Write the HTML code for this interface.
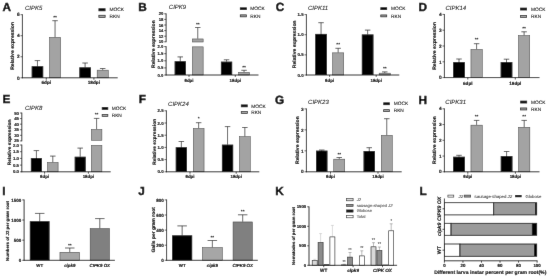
<!DOCTYPE html>
<html><head><meta charset="utf-8"><title>Figure</title>
<style>html,body{margin:0;padding:0;background:#fff;overflow:hidden}svg{display:block}</style>
</head><body>
<svg width="550" height="279" viewBox="0 0 550 279" font-family="Liberation Sans, Arial, sans-serif" shape-rendering="geometricPrecision" text-rendering="geometricPrecision">
<defs><filter id="soft" x="0" y="0" width="550" height="279" filterUnits="userSpaceOnUse"><feConvolveMatrix order="3" kernelMatrix="0.0028 0.0470 0.0028 0.0470 0.8008 0.0470 0.0028 0.0470 0.0028" edgeMode="duplicate" preserveAlpha="true"/></filter></defs>
<rect width="550" height="279" fill="#fff"/>
<g filter="url(#soft)">
<rect width="550" height="279" fill="#fff"/>
<g transform="translate(0,0.3)">
<text x="2.40" y="10.70" font-size="11.8" font-weight="bold" font-style="normal" text-anchor="start" fill="#000" stroke="#000" stroke-width="0.4">A</text>
<text x="25.00" y="9.95" font-size="6.0" font-weight="normal" font-style="italic" text-anchor="start" fill="#111" stroke="#111" stroke-width="0.08">CIPK5</text>
<rect x="98.50" y="8.00" width="7.00" height="2.90" fill="#000"/>
<rect x="98.85" y="14.95" width="6.30" height="2.30" fill="#a3a3a3" stroke="#1a1a1a" stroke-width="0.7"/>
<text x="109.60" y="11.12" font-size="4.8" font-weight="normal" font-style="normal" text-anchor="start" fill="#111" stroke="#111" stroke-width="0.08">MOCK</text>
<text x="109.60" y="17.72" font-size="4.8" font-weight="normal" font-style="normal" text-anchor="start" fill="#111" stroke="#111" stroke-width="0.08">RKN</text>
<text x="14.03" y="45.60" font-size="5.1" font-weight="bold" font-style="normal" text-anchor="middle" fill="#000" transform="rotate(-90 14.03 45.60)" stroke="#000" stroke-width="0.14">Relative expression</text>
<line x1="37.45" y1="60.30" x2="37.45" y2="65.90" stroke="#222" stroke-width="0.7"/>
<line x1="34.70" y1="60.30" x2="40.20" y2="60.30" stroke="#222" stroke-width="0.7"/>
<rect x="31.65" y="65.90" width="11.60" height="11.60" fill="#000"/>
<line x1="55.05" y1="20.40" x2="55.05" y2="36.80" stroke="#222" stroke-width="0.7"/>
<line x1="52.30" y1="20.40" x2="57.80" y2="20.40" stroke="#222" stroke-width="0.7"/>
<rect x="49.50" y="37.05" width="11.10" height="40.45" fill="#a3a3a3" stroke="#3a3a3a" stroke-width="0.5"/>
<text x="55.05" y="18.72" font-size="4.8" font-weight="bold" font-style="normal" text-anchor="middle" fill="#000">**</text>
<line x1="46.25" y1="77.50" x2="46.25" y2="79.40" stroke="#000" stroke-width="0.7"/>
<text x="46.25" y="84.18" font-size="4.7" font-weight="bold" font-style="normal" text-anchor="middle" fill="#000" stroke="#000" stroke-width="0.14">6dpi</text>
<line x1="85.10" y1="62.70" x2="85.10" y2="67.00" stroke="#222" stroke-width="0.7"/>
<line x1="82.35" y1="62.70" x2="87.85" y2="62.70" stroke="#222" stroke-width="0.7"/>
<rect x="79.30" y="67.00" width="11.60" height="10.50" fill="#000"/>
<line x1="102.70" y1="68.20" x2="102.70" y2="69.60" stroke="#222" stroke-width="0.7"/>
<line x1="99.95" y1="68.20" x2="105.45" y2="68.20" stroke="#222" stroke-width="0.7"/>
<rect x="97.15" y="69.85" width="11.10" height="7.65" fill="#a3a3a3" stroke="#3a3a3a" stroke-width="0.5"/>
<line x1="93.90" y1="77.50" x2="93.90" y2="79.40" stroke="#000" stroke-width="0.7"/>
<text x="93.90" y="84.18" font-size="4.7" font-weight="bold" font-style="normal" text-anchor="middle" fill="#000" stroke="#000" stroke-width="0.14">18dpi</text>
<line x1="22.00" y1="77.50" x2="117.70" y2="77.50" stroke="#000" stroke-width="0.8"/>
<line x1="22.40" y1="14.00" x2="22.40" y2="77.90" stroke="#000" stroke-width="0.8"/>
<line x1="20.50" y1="77.50" x2="22.40" y2="77.50" stroke="#000" stroke-width="0.6"/>
<text x="19.60" y="79.22" font-size="4.8" font-weight="bold" font-style="normal" text-anchor="end" fill="#000" stroke="#000" stroke-width="0.14">0</text>
<line x1="20.50" y1="56.47" x2="22.40" y2="56.47" stroke="#000" stroke-width="0.6"/>
<text x="19.60" y="58.19" font-size="4.8" font-weight="bold" font-style="normal" text-anchor="end" fill="#000" stroke="#000" stroke-width="0.14">2</text>
<line x1="20.50" y1="35.43" x2="22.40" y2="35.43" stroke="#000" stroke-width="0.6"/>
<text x="19.60" y="37.15" font-size="4.8" font-weight="bold" font-style="normal" text-anchor="end" fill="#000" stroke="#000" stroke-width="0.14">4</text>
<line x1="20.50" y1="14.40" x2="22.40" y2="14.40" stroke="#000" stroke-width="0.6"/>
<text x="19.60" y="16.12" font-size="4.8" font-weight="bold" font-style="normal" text-anchor="end" fill="#000" stroke="#000" stroke-width="0.14">6</text>
</g>
<g transform="translate(0,0)">
<text x="138.24" y="10.70" font-size="11.8" font-weight="bold" font-style="normal" text-anchor="start" fill="#000" stroke="#000" stroke-width="0.4">B</text>
<text x="168.80" y="9.45" font-size="6.0" font-weight="normal" font-style="italic" text-anchor="start" fill="#111" stroke="#111" stroke-width="0.08">CIPK9</text>
<rect x="239.90" y="7.40" width="6.90" height="2.50" fill="#000"/>
<rect x="240.25" y="14.85" width="6.20" height="2.00" fill="#a3a3a3" stroke="#1a1a1a" stroke-width="0.7"/>
<text x="250.30" y="10.32" font-size="4.8" font-weight="normal" font-style="normal" text-anchor="start" fill="#111" stroke="#111" stroke-width="0.08">MOCK</text>
<text x="250.30" y="17.52" font-size="4.8" font-weight="normal" font-style="normal" text-anchor="start" fill="#111" stroke="#111" stroke-width="0.08">RKN</text>
<text x="155.03" y="44.10" font-size="5.1" font-weight="bold" font-style="normal" text-anchor="middle" fill="#000" transform="rotate(-90 155.03 44.10)" stroke="#000" stroke-width="0.14">Relative expression</text>
<line x1="180.25" y1="56.90" x2="180.25" y2="61.20" stroke="#222" stroke-width="0.7"/>
<line x1="177.50" y1="56.90" x2="183.00" y2="56.90" stroke="#222" stroke-width="0.7"/>
<rect x="174.60" y="61.20" width="11.30" height="13.80" fill="#000"/>
<line x1="197.75" y1="27.50" x2="197.75" y2="38.70" stroke="#222" stroke-width="0.7"/>
<line x1="195.00" y1="27.50" x2="200.50" y2="27.50" stroke="#222" stroke-width="0.7"/>
<rect x="192.35" y="38.95" width="10.80" height="3.05" fill="#a3a3a3" stroke="#3a3a3a" stroke-width="0.5"/>
<rect x="192.35" y="46.85" width="10.80" height="28.15" fill="#a3a3a3" stroke="#3a3a3a" stroke-width="0.5"/>
<text x="197.75" y="25.52" font-size="4.8" font-weight="bold" font-style="normal" text-anchor="middle" fill="#000">**</text>
<line x1="189.00" y1="75.00" x2="189.00" y2="76.90" stroke="#000" stroke-width="0.7"/>
<text x="189.00" y="81.78" font-size="4.4" font-weight="bold" font-style="normal" text-anchor="middle" fill="#000" stroke="#000" stroke-width="0.14">6dpi</text>
<line x1="226.55" y1="59.80" x2="226.55" y2="61.60" stroke="#222" stroke-width="0.7"/>
<line x1="223.80" y1="59.80" x2="229.30" y2="59.80" stroke="#222" stroke-width="0.7"/>
<rect x="220.90" y="61.60" width="11.30" height="13.40" fill="#000"/>
<line x1="244.05" y1="70.30" x2="244.05" y2="72.10" stroke="#222" stroke-width="0.7"/>
<line x1="241.30" y1="70.30" x2="246.80" y2="70.30" stroke="#222" stroke-width="0.7"/>
<rect x="238.65" y="72.35" width="10.80" height="2.65" fill="#a3a3a3" stroke="#3a3a3a" stroke-width="0.5"/>
<text x="244.05" y="68.72" font-size="4.8" font-weight="bold" font-style="normal" text-anchor="middle" fill="#000">**</text>
<line x1="235.30" y1="75.00" x2="235.30" y2="76.90" stroke="#000" stroke-width="0.7"/>
<text x="235.30" y="81.78" font-size="4.4" font-weight="bold" font-style="normal" text-anchor="middle" fill="#000" stroke="#000" stroke-width="0.14">18dpi</text>
<line x1="165.70" y1="75.00" x2="258.50" y2="75.00" stroke="#000" stroke-width="0.8"/>
<line x1="166.10" y1="46.20" x2="166.10" y2="75.40" stroke="#000" stroke-width="0.8"/>
<line x1="164.20" y1="75.00" x2="166.10" y2="75.00" stroke="#000" stroke-width="0.6"/>
<text x="163.30" y="76.50" font-size="4.2" font-weight="bold" font-style="normal" text-anchor="end" fill="#000" stroke="#000" stroke-width="0.14">0.0</text>
<line x1="164.20" y1="67.90" x2="166.10" y2="67.90" stroke="#000" stroke-width="0.6"/>
<text x="163.30" y="69.40" font-size="4.2" font-weight="bold" font-style="normal" text-anchor="end" fill="#000" stroke="#000" stroke-width="0.14">0.5</text>
<line x1="164.20" y1="60.80" x2="166.10" y2="60.80" stroke="#000" stroke-width="0.6"/>
<text x="163.30" y="62.30" font-size="4.2" font-weight="bold" font-style="normal" text-anchor="end" fill="#000" stroke="#000" stroke-width="0.14">1.0</text>
<line x1="164.20" y1="53.70" x2="166.10" y2="53.70" stroke="#000" stroke-width="0.6"/>
<text x="163.30" y="55.20" font-size="4.2" font-weight="bold" font-style="normal" text-anchor="end" fill="#000" stroke="#000" stroke-width="0.14">1.5</text>
<line x1="164.20" y1="46.60" x2="166.10" y2="46.60" stroke="#000" stroke-width="0.6"/>
<text x="163.30" y="48.10" font-size="4.2" font-weight="bold" font-style="normal" text-anchor="end" fill="#000" stroke="#000" stroke-width="0.14">2.0</text>
<line x1="166.10" y1="13.40" x2="166.10" y2="42.20" stroke="#000" stroke-width="0.8"/>
<line x1="164.20" y1="41.80" x2="166.10" y2="41.80" stroke="#000" stroke-width="0.6"/>
<text x="163.30" y="43.30" font-size="4.2" font-weight="bold" font-style="normal" text-anchor="end" fill="#000" stroke="#000" stroke-width="0.14">10</text>
<line x1="164.20" y1="36.20" x2="166.10" y2="36.20" stroke="#000" stroke-width="0.6"/>
<text x="163.30" y="37.70" font-size="4.2" font-weight="bold" font-style="normal" text-anchor="end" fill="#000" stroke="#000" stroke-width="0.14">12</text>
<line x1="164.20" y1="30.60" x2="166.10" y2="30.60" stroke="#000" stroke-width="0.6"/>
<text x="163.30" y="32.10" font-size="4.2" font-weight="bold" font-style="normal" text-anchor="end" fill="#000" stroke="#000" stroke-width="0.14">14</text>
<line x1="164.20" y1="25.00" x2="166.10" y2="25.00" stroke="#000" stroke-width="0.6"/>
<text x="163.30" y="26.50" font-size="4.2" font-weight="bold" font-style="normal" text-anchor="end" fill="#000" stroke="#000" stroke-width="0.14">16</text>
<line x1="164.20" y1="19.40" x2="166.10" y2="19.40" stroke="#000" stroke-width="0.6"/>
<text x="163.30" y="20.90" font-size="4.2" font-weight="bold" font-style="normal" text-anchor="end" fill="#000" stroke="#000" stroke-width="0.14">18</text>
<line x1="164.20" y1="13.80" x2="166.10" y2="13.80" stroke="#000" stroke-width="0.6"/>
<text x="163.30" y="15.30" font-size="4.2" font-weight="bold" font-style="normal" text-anchor="end" fill="#000" stroke="#000" stroke-width="0.14">20</text>
</g>
<g transform="translate(0,0)">
<text x="275.66" y="10.80" font-size="11.8" font-weight="bold" font-style="normal" text-anchor="start" fill="#000" stroke="#000" stroke-width="0.4">C</text>
<text x="307.90" y="9.55" font-size="6.0" font-weight="normal" font-style="italic" text-anchor="start" fill="#111" stroke="#111" stroke-width="0.08">CIPK11</text>
<rect x="380.40" y="7.30" width="6.70" height="2.70" fill="#000"/>
<rect x="380.75" y="14.95" width="6.00" height="1.90" fill="#a3a3a3" stroke="#1a1a1a" stroke-width="0.7"/>
<text x="391.10" y="10.32" font-size="4.8" font-weight="normal" font-style="normal" text-anchor="start" fill="#111" stroke="#111" stroke-width="0.08">MOCK</text>
<text x="391.10" y="17.72" font-size="4.8" font-weight="normal" font-style="normal" text-anchor="start" fill="#111" stroke="#111" stroke-width="0.08">RKN</text>
<text x="295.63" y="44.30" font-size="5.1" font-weight="bold" font-style="normal" text-anchor="middle" fill="#000" transform="rotate(-90 295.63 44.30)" stroke="#000" stroke-width="0.14">Relative expression</text>
<line x1="321.05" y1="22.70" x2="321.05" y2="33.90" stroke="#222" stroke-width="0.7"/>
<line x1="318.30" y1="22.70" x2="323.80" y2="22.70" stroke="#222" stroke-width="0.7"/>
<rect x="315.20" y="33.90" width="11.70" height="41.10" fill="#000"/>
<line x1="338.15" y1="48.30" x2="338.15" y2="52.60" stroke="#222" stroke-width="0.7"/>
<line x1="335.40" y1="48.30" x2="340.90" y2="48.30" stroke="#222" stroke-width="0.7"/>
<rect x="332.55" y="52.85" width="11.20" height="22.15" fill="#a3a3a3" stroke="#3a3a3a" stroke-width="0.5"/>
<text x="338.15" y="46.32" font-size="4.8" font-weight="bold" font-style="normal" text-anchor="middle" fill="#000">**</text>
<line x1="329.60" y1="75.00" x2="329.60" y2="76.90" stroke="#000" stroke-width="0.7"/>
<text x="329.60" y="81.78" font-size="4.4" font-weight="bold" font-style="normal" text-anchor="middle" fill="#000" stroke="#000" stroke-width="0.14">6dpi</text>
<line x1="367.65" y1="30.10" x2="367.65" y2="34.40" stroke="#222" stroke-width="0.7"/>
<line x1="364.90" y1="30.10" x2="370.40" y2="30.10" stroke="#222" stroke-width="0.7"/>
<rect x="361.80" y="34.40" width="11.70" height="40.60" fill="#000"/>
<line x1="384.75" y1="71.90" x2="384.75" y2="72.90" stroke="#222" stroke-width="0.7"/>
<line x1="382.00" y1="71.90" x2="387.50" y2="71.90" stroke="#222" stroke-width="0.7"/>
<rect x="379.15" y="73.15" width="11.20" height="1.85" fill="#a3a3a3" stroke="#3a3a3a" stroke-width="0.5"/>
<text x="384.75" y="70.12" font-size="4.8" font-weight="bold" font-style="normal" text-anchor="middle" fill="#000">**</text>
<line x1="376.20" y1="75.00" x2="376.20" y2="76.90" stroke="#000" stroke-width="0.7"/>
<text x="376.20" y="81.78" font-size="4.4" font-weight="bold" font-style="normal" text-anchor="middle" fill="#000" stroke="#000" stroke-width="0.14">18dpi</text>
<line x1="306.00" y1="75.00" x2="399.30" y2="75.00" stroke="#000" stroke-width="0.8"/>
<line x1="306.40" y1="14.20" x2="306.40" y2="75.40" stroke="#000" stroke-width="0.8"/>
<line x1="304.50" y1="75.00" x2="306.40" y2="75.00" stroke="#000" stroke-width="0.6"/>
<text x="303.60" y="76.54" font-size="4.3" font-weight="bold" font-style="normal" text-anchor="end" fill="#000" stroke="#000" stroke-width="0.14">0.0</text>
<line x1="304.50" y1="54.87" x2="306.40" y2="54.87" stroke="#000" stroke-width="0.6"/>
<text x="303.60" y="56.41" font-size="4.3" font-weight="bold" font-style="normal" text-anchor="end" fill="#000" stroke="#000" stroke-width="0.14">0.5</text>
<line x1="304.50" y1="34.73" x2="306.40" y2="34.73" stroke="#000" stroke-width="0.6"/>
<text x="303.60" y="36.27" font-size="4.3" font-weight="bold" font-style="normal" text-anchor="end" fill="#000" stroke="#000" stroke-width="0.14">1.0</text>
<line x1="304.50" y1="14.60" x2="306.40" y2="14.60" stroke="#000" stroke-width="0.6"/>
<text x="303.60" y="16.14" font-size="4.3" font-weight="bold" font-style="normal" text-anchor="end" fill="#000" stroke="#000" stroke-width="0.14">1.5</text>
</g>
<g transform="translate(0,0)">
<text x="418.54" y="10.60" font-size="11.8" font-weight="bold" font-style="normal" text-anchor="start" fill="#000" stroke="#000" stroke-width="0.4">D</text>
<text x="445.50" y="9.85" font-size="6.0" font-weight="normal" font-style="italic" text-anchor="start" fill="#111" stroke="#111" stroke-width="0.08">CIPK14</text>
<rect x="520.10" y="7.70" width="6.90" height="2.70" fill="#000"/>
<rect x="520.45" y="15.35" width="6.20" height="2.00" fill="#a3a3a3" stroke="#1a1a1a" stroke-width="0.7"/>
<text x="531.00" y="10.62" font-size="4.8" font-weight="normal" font-style="normal" text-anchor="start" fill="#111" stroke="#111" stroke-width="0.08">MOCK</text>
<text x="531.00" y="18.22" font-size="4.8" font-weight="normal" font-style="normal" text-anchor="start" fill="#111" stroke="#111" stroke-width="0.08">RKN</text>
<text x="436.43" y="45.90" font-size="5.1" font-weight="bold" font-style="normal" text-anchor="middle" fill="#000" transform="rotate(-90 436.43 45.90)" stroke="#000" stroke-width="0.14">Relative expression</text>
<line x1="459.00" y1="59.00" x2="459.00" y2="62.10" stroke="#222" stroke-width="0.7"/>
<line x1="456.25" y1="59.00" x2="461.75" y2="59.00" stroke="#222" stroke-width="0.7"/>
<rect x="453.10" y="62.10" width="11.80" height="15.50" fill="#000"/>
<line x1="476.60" y1="43.70" x2="476.60" y2="49.20" stroke="#222" stroke-width="0.7"/>
<line x1="473.85" y1="43.70" x2="479.35" y2="43.70" stroke="#222" stroke-width="0.7"/>
<rect x="470.95" y="49.45" width="11.30" height="28.15" fill="#a3a3a3" stroke="#3a3a3a" stroke-width="0.5"/>
<text x="476.60" y="41.02" font-size="4.8" font-weight="bold" font-style="normal" text-anchor="middle" fill="#000">**</text>
<line x1="467.80" y1="77.60" x2="467.80" y2="79.50" stroke="#000" stroke-width="0.7"/>
<text x="467.80" y="84.65" font-size="4.6" font-weight="bold" font-style="normal" text-anchor="middle" fill="#000" stroke="#000" stroke-width="0.14">6dpi</text>
<line x1="506.50" y1="59.20" x2="506.50" y2="62.10" stroke="#222" stroke-width="0.7"/>
<line x1="503.75" y1="59.20" x2="509.25" y2="59.20" stroke="#222" stroke-width="0.7"/>
<rect x="500.60" y="62.10" width="11.80" height="15.50" fill="#000"/>
<line x1="524.10" y1="31.80" x2="524.10" y2="35.30" stroke="#222" stroke-width="0.7"/>
<line x1="521.35" y1="31.80" x2="526.85" y2="31.80" stroke="#222" stroke-width="0.7"/>
<rect x="518.45" y="35.55" width="11.30" height="42.05" fill="#a3a3a3" stroke="#3a3a3a" stroke-width="0.5"/>
<text x="524.10" y="29.82" font-size="4.8" font-weight="bold" font-style="normal" text-anchor="middle" fill="#000">**</text>
<line x1="515.30" y1="77.60" x2="515.30" y2="79.50" stroke="#000" stroke-width="0.7"/>
<text x="515.30" y="84.65" font-size="4.6" font-weight="bold" font-style="normal" text-anchor="middle" fill="#000" stroke="#000" stroke-width="0.14">18dpi</text>
<line x1="444.00" y1="77.60" x2="539.50" y2="77.60" stroke="#000" stroke-width="0.8"/>
<line x1="444.40" y1="14.00" x2="444.40" y2="78.00" stroke="#000" stroke-width="0.8"/>
<line x1="442.50" y1="77.60" x2="444.40" y2="77.60" stroke="#000" stroke-width="0.6"/>
<text x="441.60" y="79.32" font-size="4.8" font-weight="bold" font-style="normal" text-anchor="end" fill="#000" stroke="#000" stroke-width="0.14">0</text>
<line x1="442.50" y1="61.80" x2="444.40" y2="61.80" stroke="#000" stroke-width="0.6"/>
<text x="441.60" y="63.52" font-size="4.8" font-weight="bold" font-style="normal" text-anchor="end" fill="#000" stroke="#000" stroke-width="0.14">1</text>
<line x1="442.50" y1="46.00" x2="444.40" y2="46.00" stroke="#000" stroke-width="0.6"/>
<text x="441.60" y="47.72" font-size="4.8" font-weight="bold" font-style="normal" text-anchor="end" fill="#000" stroke="#000" stroke-width="0.14">2</text>
<line x1="442.50" y1="30.20" x2="444.40" y2="30.20" stroke="#000" stroke-width="0.6"/>
<text x="441.60" y="31.92" font-size="4.8" font-weight="bold" font-style="normal" text-anchor="end" fill="#000" stroke="#000" stroke-width="0.14">3</text>
<line x1="442.50" y1="14.40" x2="444.40" y2="14.40" stroke="#000" stroke-width="0.6"/>
<text x="441.60" y="16.12" font-size="4.8" font-weight="bold" font-style="normal" text-anchor="end" fill="#000" stroke="#000" stroke-width="0.14">4</text>
</g>
<g transform="translate(0,0)">
<text x="2.44" y="103.20" font-size="11.8" font-weight="bold" font-style="normal" text-anchor="start" fill="#000" stroke="#000" stroke-width="0.4">E</text>
<text x="25.00" y="109.85" font-size="6.0" font-weight="normal" font-style="italic" text-anchor="start" fill="#111" stroke="#111" stroke-width="0.08">CIPK8</text>
<rect x="101.80" y="107.10" width="6.40" height="2.70" fill="#000"/>
<rect x="102.15" y="114.35" width="5.70" height="2.00" fill="#a3a3a3" stroke="#1a1a1a" stroke-width="0.7"/>
<text x="111.70" y="110.12" font-size="4.8" font-weight="normal" font-style="normal" text-anchor="start" fill="#111" stroke="#111" stroke-width="0.08">MOCK</text>
<text x="111.70" y="117.22" font-size="4.8" font-weight="normal" font-style="normal" text-anchor="start" fill="#111" stroke="#111" stroke-width="0.08">RKN</text>
<text x="11.25" y="142.40" font-size="4.9" font-weight="bold" font-style="normal" text-anchor="middle" fill="#000" transform="rotate(-90 11.25 142.40)" stroke="#000" stroke-width="0.14">Relative expression</text>
<line x1="36.40" y1="150.60" x2="36.40" y2="158.00" stroke="#222" stroke-width="0.7"/>
<line x1="33.65" y1="150.60" x2="39.15" y2="150.60" stroke="#222" stroke-width="0.7"/>
<rect x="30.85" y="158.00" width="11.10" height="13.80" fill="#000"/>
<line x1="52.80" y1="156.10" x2="52.80" y2="162.20" stroke="#222" stroke-width="0.7"/>
<line x1="50.05" y1="156.10" x2="55.55" y2="156.10" stroke="#222" stroke-width="0.7"/>
<rect x="47.50" y="162.45" width="10.60" height="9.35" fill="#a3a3a3" stroke="#3a3a3a" stroke-width="0.5"/>
<line x1="44.60" y1="171.80" x2="44.60" y2="173.70" stroke="#000" stroke-width="0.7"/>
<text x="44.60" y="177.68" font-size="4.4" font-weight="bold" font-style="normal" text-anchor="middle" fill="#000" stroke="#000" stroke-width="0.14">6dpi</text>
<line x1="80.20" y1="148.10" x2="80.20" y2="156.70" stroke="#222" stroke-width="0.7"/>
<line x1="77.45" y1="148.10" x2="82.95" y2="148.10" stroke="#222" stroke-width="0.7"/>
<rect x="74.65" y="156.70" width="11.10" height="15.10" fill="#000"/>
<line x1="96.60" y1="118.40" x2="96.60" y2="129.20" stroke="#222" stroke-width="0.7"/>
<line x1="93.85" y1="118.40" x2="99.35" y2="118.40" stroke="#222" stroke-width="0.7"/>
<rect x="91.30" y="129.45" width="10.60" height="10.85" fill="#a3a3a3" stroke="#3a3a3a" stroke-width="0.5"/>
<rect x="91.30" y="145.35" width="10.60" height="26.45" fill="#a3a3a3" stroke="#3a3a3a" stroke-width="0.5"/>
<text x="96.60" y="116.02" font-size="4.8" font-weight="bold" font-style="normal" text-anchor="middle" fill="#000">**</text>
<line x1="88.40" y1="171.80" x2="88.40" y2="173.70" stroke="#000" stroke-width="0.7"/>
<text x="88.40" y="177.68" font-size="4.4" font-weight="bold" font-style="normal" text-anchor="middle" fill="#000" stroke="#000" stroke-width="0.14">18dpi</text>
<line x1="21.40" y1="171.80" x2="110.70" y2="171.80" stroke="#000" stroke-width="0.8"/>
<line x1="21.80" y1="144.60" x2="21.80" y2="172.20" stroke="#000" stroke-width="0.8"/>
<line x1="19.90" y1="171.80" x2="21.80" y2="171.80" stroke="#000" stroke-width="0.6"/>
<text x="19.00" y="173.34" font-size="4.3" font-weight="bold" font-style="normal" text-anchor="end" fill="#000" stroke="#000" stroke-width="0.14">0.0</text>
<line x1="19.90" y1="165.10" x2="21.80" y2="165.10" stroke="#000" stroke-width="0.6"/>
<text x="19.00" y="166.64" font-size="4.3" font-weight="bold" font-style="normal" text-anchor="end" fill="#000" stroke="#000" stroke-width="0.14">0.5</text>
<line x1="19.90" y1="158.40" x2="21.80" y2="158.40" stroke="#000" stroke-width="0.6"/>
<text x="19.00" y="159.94" font-size="4.3" font-weight="bold" font-style="normal" text-anchor="end" fill="#000" stroke="#000" stroke-width="0.14">1.0</text>
<line x1="19.90" y1="151.70" x2="21.80" y2="151.70" stroke="#000" stroke-width="0.6"/>
<text x="19.00" y="153.24" font-size="4.3" font-weight="bold" font-style="normal" text-anchor="end" fill="#000" stroke="#000" stroke-width="0.14">1.5</text>
<line x1="19.90" y1="145.00" x2="21.80" y2="145.00" stroke="#000" stroke-width="0.6"/>
<text x="19.00" y="146.54" font-size="4.3" font-weight="bold" font-style="normal" text-anchor="end" fill="#000" stroke="#000" stroke-width="0.14">2.0</text>
<line x1="21.80" y1="112.60" x2="21.80" y2="141.30" stroke="#000" stroke-width="0.8"/>
<line x1="19.90" y1="140.90" x2="21.80" y2="140.90" stroke="#000" stroke-width="0.6"/>
<text x="19.00" y="142.44" font-size="4.3" font-weight="bold" font-style="normal" text-anchor="end" fill="#000" stroke="#000" stroke-width="0.14">25</text>
<line x1="19.90" y1="135.32" x2="21.80" y2="135.32" stroke="#000" stroke-width="0.6"/>
<text x="19.00" y="136.86" font-size="4.3" font-weight="bold" font-style="normal" text-anchor="end" fill="#000" stroke="#000" stroke-width="0.14">30</text>
<line x1="19.90" y1="129.74" x2="21.80" y2="129.74" stroke="#000" stroke-width="0.6"/>
<text x="19.00" y="131.28" font-size="4.3" font-weight="bold" font-style="normal" text-anchor="end" fill="#000" stroke="#000" stroke-width="0.14">35</text>
<line x1="19.90" y1="124.16" x2="21.80" y2="124.16" stroke="#000" stroke-width="0.6"/>
<text x="19.00" y="125.70" font-size="4.3" font-weight="bold" font-style="normal" text-anchor="end" fill="#000" stroke="#000" stroke-width="0.14">40</text>
<line x1="19.90" y1="118.58" x2="21.80" y2="118.58" stroke="#000" stroke-width="0.6"/>
<text x="19.00" y="120.12" font-size="4.3" font-weight="bold" font-style="normal" text-anchor="end" fill="#000" stroke="#000" stroke-width="0.14">45</text>
<line x1="19.90" y1="113.00" x2="21.80" y2="113.00" stroke="#000" stroke-width="0.6"/>
<text x="19.00" y="114.54" font-size="4.3" font-weight="bold" font-style="normal" text-anchor="end" fill="#000" stroke="#000" stroke-width="0.14">50</text>
</g>
<g transform="translate(0,0)">
<text x="138.64" y="103.20" font-size="11.8" font-weight="bold" font-style="normal" text-anchor="start" fill="#000" stroke="#000" stroke-width="0.4">F</text>
<text x="168.10" y="106.35" font-size="6.0" font-weight="normal" font-style="italic" text-anchor="start" fill="#111" stroke="#111" stroke-width="0.08">CIPK24</text>
<rect x="240.90" y="104.50" width="6.80" height="2.70" fill="#000"/>
<rect x="241.25" y="111.55" width="6.10" height="1.90" fill="#a3a3a3" stroke="#1a1a1a" stroke-width="0.7"/>
<text x="251.20" y="107.52" font-size="4.8" font-weight="normal" font-style="normal" text-anchor="start" fill="#111" stroke="#111" stroke-width="0.08">MOCK</text>
<text x="251.20" y="114.22" font-size="4.8" font-weight="normal" font-style="normal" text-anchor="start" fill="#111" stroke="#111" stroke-width="0.08">RKN</text>
<text x="156.15" y="141.80" font-size="4.9" font-weight="bold" font-style="normal" text-anchor="middle" fill="#000" transform="rotate(-90 156.15 141.80)" stroke="#000" stroke-width="0.14">Relative expression</text>
<line x1="181.35" y1="141.50" x2="181.35" y2="147.20" stroke="#222" stroke-width="0.7"/>
<line x1="178.60" y1="141.50" x2="184.10" y2="141.50" stroke="#222" stroke-width="0.7"/>
<rect x="175.70" y="147.20" width="11.30" height="24.60" fill="#000"/>
<line x1="198.65" y1="122.70" x2="198.65" y2="128.20" stroke="#222" stroke-width="0.7"/>
<line x1="195.90" y1="122.70" x2="201.40" y2="122.70" stroke="#222" stroke-width="0.7"/>
<rect x="193.25" y="128.45" width="10.80" height="43.35" fill="#a3a3a3" stroke="#3a3a3a" stroke-width="0.5"/>
<text x="198.65" y="119.92" font-size="4.8" font-weight="bold" font-style="normal" text-anchor="middle" fill="#000">*</text>
<line x1="190.00" y1="171.80" x2="190.00" y2="173.70" stroke="#000" stroke-width="0.7"/>
<text x="190.00" y="177.88" font-size="4.4" font-weight="bold" font-style="normal" text-anchor="middle" fill="#000" stroke="#000" stroke-width="0.14">6dpi</text>
<line x1="227.55" y1="126.60" x2="227.55" y2="144.60" stroke="#222" stroke-width="0.7"/>
<line x1="224.80" y1="126.60" x2="230.30" y2="126.60" stroke="#222" stroke-width="0.7"/>
<rect x="221.90" y="144.60" width="11.30" height="27.20" fill="#000"/>
<line x1="244.85" y1="127.50" x2="244.85" y2="136.40" stroke="#222" stroke-width="0.7"/>
<line x1="242.10" y1="127.50" x2="247.60" y2="127.50" stroke="#222" stroke-width="0.7"/>
<rect x="239.45" y="136.65" width="10.80" height="35.15" fill="#a3a3a3" stroke="#3a3a3a" stroke-width="0.5"/>
<line x1="236.20" y1="171.80" x2="236.20" y2="173.70" stroke="#000" stroke-width="0.7"/>
<text x="236.20" y="177.88" font-size="4.4" font-weight="bold" font-style="normal" text-anchor="middle" fill="#000" stroke="#000" stroke-width="0.14">18dpi</text>
<line x1="166.00" y1="171.80" x2="259.30" y2="171.80" stroke="#000" stroke-width="0.8"/>
<line x1="166.40" y1="110.40" x2="166.40" y2="172.20" stroke="#000" stroke-width="0.8"/>
<line x1="164.50" y1="171.80" x2="166.40" y2="171.80" stroke="#000" stroke-width="0.6"/>
<text x="163.60" y="173.34" font-size="4.3" font-weight="bold" font-style="normal" text-anchor="end" fill="#000" stroke="#000" stroke-width="0.14">0.0</text>
<line x1="164.50" y1="159.60" x2="166.40" y2="159.60" stroke="#000" stroke-width="0.6"/>
<text x="163.60" y="161.14" font-size="4.3" font-weight="bold" font-style="normal" text-anchor="end" fill="#000" stroke="#000" stroke-width="0.14">0.5</text>
<line x1="164.50" y1="147.40" x2="166.40" y2="147.40" stroke="#000" stroke-width="0.6"/>
<text x="163.60" y="148.94" font-size="4.3" font-weight="bold" font-style="normal" text-anchor="end" fill="#000" stroke="#000" stroke-width="0.14">1.0</text>
<line x1="164.50" y1="135.20" x2="166.40" y2="135.20" stroke="#000" stroke-width="0.6"/>
<text x="163.60" y="136.74" font-size="4.3" font-weight="bold" font-style="normal" text-anchor="end" fill="#000" stroke="#000" stroke-width="0.14">1.5</text>
<line x1="164.50" y1="123.00" x2="166.40" y2="123.00" stroke="#000" stroke-width="0.6"/>
<text x="163.60" y="124.54" font-size="4.3" font-weight="bold" font-style="normal" text-anchor="end" fill="#000" stroke="#000" stroke-width="0.14">2.0</text>
<line x1="164.50" y1="110.80" x2="166.40" y2="110.80" stroke="#000" stroke-width="0.6"/>
<text x="163.60" y="112.34" font-size="4.3" font-weight="bold" font-style="normal" text-anchor="end" fill="#000" stroke="#000" stroke-width="0.14">2.5</text>
</g>
<g transform="translate(0,0)">
<text x="275.06" y="103.90" font-size="11.8" font-weight="bold" font-style="normal" text-anchor="start" fill="#000" stroke="#000" stroke-width="0.4">G</text>
<text x="308.10" y="104.15" font-size="6.0" font-weight="normal" font-style="italic" text-anchor="start" fill="#111" stroke="#111" stroke-width="0.08">CIPK23</text>
<rect x="383.30" y="102.40" width="6.50" height="2.70" fill="#000"/>
<rect x="383.65" y="109.65" width="5.80" height="2.00" fill="#a3a3a3" stroke="#1a1a1a" stroke-width="0.7"/>
<text x="393.70" y="105.22" font-size="4.8" font-weight="normal" font-style="normal" text-anchor="start" fill="#111" stroke="#111" stroke-width="0.08">MOCK</text>
<text x="393.70" y="112.32" font-size="4.8" font-weight="normal" font-style="normal" text-anchor="start" fill="#111" stroke="#111" stroke-width="0.08">RKN</text>
<text x="298.73" y="140.10" font-size="5.1" font-weight="bold" font-style="normal" text-anchor="middle" fill="#000" transform="rotate(-90 298.73 140.10)" stroke="#000" stroke-width="0.14">Relative expression</text>
<line x1="321.75" y1="150.00" x2="321.75" y2="150.60" stroke="#222" stroke-width="0.7"/>
<line x1="319.00" y1="150.00" x2="324.50" y2="150.00" stroke="#222" stroke-width="0.7"/>
<rect x="316.00" y="150.60" width="11.50" height="21.20" fill="#000"/>
<line x1="339.25" y1="157.50" x2="339.25" y2="158.90" stroke="#222" stroke-width="0.7"/>
<line x1="336.50" y1="157.50" x2="342.00" y2="157.50" stroke="#222" stroke-width="0.7"/>
<rect x="333.75" y="159.15" width="11.00" height="12.65" fill="#a3a3a3" stroke="#3a3a3a" stroke-width="0.5"/>
<text x="339.25" y="155.52" font-size="4.8" font-weight="bold" font-style="normal" text-anchor="middle" fill="#000">**</text>
<line x1="330.50" y1="171.80" x2="330.50" y2="173.70" stroke="#000" stroke-width="0.7"/>
<text x="330.50" y="178.08" font-size="4.4" font-weight="bold" font-style="normal" text-anchor="middle" fill="#000" stroke="#000" stroke-width="0.14">6dpi</text>
<line x1="369.25" y1="147.70" x2="369.25" y2="151.00" stroke="#222" stroke-width="0.7"/>
<line x1="366.50" y1="147.70" x2="372.00" y2="147.70" stroke="#222" stroke-width="0.7"/>
<rect x="363.50" y="151.00" width="11.50" height="20.80" fill="#000"/>
<line x1="386.75" y1="118.70" x2="386.75" y2="135.10" stroke="#222" stroke-width="0.7"/>
<line x1="384.00" y1="118.70" x2="389.50" y2="118.70" stroke="#222" stroke-width="0.7"/>
<rect x="381.25" y="135.35" width="11.00" height="36.45" fill="#a3a3a3" stroke="#3a3a3a" stroke-width="0.5"/>
<line x1="378.00" y1="171.80" x2="378.00" y2="173.70" stroke="#000" stroke-width="0.7"/>
<text x="378.00" y="178.08" font-size="4.4" font-weight="bold" font-style="normal" text-anchor="middle" fill="#000" stroke="#000" stroke-width="0.14">18dpi</text>
<line x1="306.00" y1="171.80" x2="401.70" y2="171.80" stroke="#000" stroke-width="0.8"/>
<line x1="306.40" y1="108.50" x2="306.40" y2="172.20" stroke="#000" stroke-width="0.8"/>
<line x1="304.50" y1="171.80" x2="306.40" y2="171.80" stroke="#000" stroke-width="0.6"/>
<text x="303.60" y="173.48" font-size="4.7" font-weight="bold" font-style="normal" text-anchor="end" fill="#000" stroke="#000" stroke-width="0.14">0</text>
<line x1="304.50" y1="150.83" x2="306.40" y2="150.83" stroke="#000" stroke-width="0.6"/>
<text x="303.60" y="152.52" font-size="4.7" font-weight="bold" font-style="normal" text-anchor="end" fill="#000" stroke="#000" stroke-width="0.14">1</text>
<line x1="304.50" y1="129.87" x2="306.40" y2="129.87" stroke="#000" stroke-width="0.6"/>
<text x="303.60" y="131.55" font-size="4.7" font-weight="bold" font-style="normal" text-anchor="end" fill="#000" stroke="#000" stroke-width="0.14">2</text>
<line x1="304.50" y1="108.90" x2="306.40" y2="108.90" stroke="#000" stroke-width="0.6"/>
<text x="303.60" y="110.58" font-size="4.7" font-weight="bold" font-style="normal" text-anchor="end" fill="#000" stroke="#000" stroke-width="0.14">3</text>
</g>
<g transform="translate(0,0)">
<text x="418.54" y="103.80" font-size="11.8" font-weight="bold" font-style="normal" text-anchor="start" fill="#000" stroke="#000" stroke-width="0.4">H</text>
<text x="445.30" y="104.15" font-size="6.0" font-weight="normal" font-style="italic" text-anchor="start" fill="#111" stroke="#111" stroke-width="0.08">CIPK31</text>
<rect x="520.20" y="100.70" width="6.90" height="2.70" fill="#000"/>
<rect x="520.55" y="107.95" width="6.20" height="2.00" fill="#a3a3a3" stroke="#1a1a1a" stroke-width="0.7"/>
<text x="531.00" y="103.72" font-size="4.8" font-weight="normal" font-style="normal" text-anchor="start" fill="#111" stroke="#111" stroke-width="0.08">MOCK</text>
<text x="531.00" y="110.62" font-size="4.8" font-weight="normal" font-style="normal" text-anchor="start" fill="#111" stroke="#111" stroke-width="0.08">RKN</text>
<text x="436.43" y="140.00" font-size="5.1" font-weight="bold" font-style="normal" text-anchor="middle" fill="#000" transform="rotate(-90 436.43 140.00)" stroke="#000" stroke-width="0.14">Relative expression</text>
<line x1="459.00" y1="155.30" x2="459.00" y2="156.70" stroke="#222" stroke-width="0.7"/>
<line x1="456.25" y1="155.30" x2="461.75" y2="155.30" stroke="#222" stroke-width="0.7"/>
<rect x="453.10" y="156.70" width="11.80" height="15.10" fill="#000"/>
<line x1="476.60" y1="120.40" x2="476.60" y2="124.90" stroke="#222" stroke-width="0.7"/>
<line x1="473.85" y1="120.40" x2="479.35" y2="120.40" stroke="#222" stroke-width="0.7"/>
<rect x="470.95" y="125.15" width="11.30" height="46.65" fill="#a3a3a3" stroke="#3a3a3a" stroke-width="0.5"/>
<text x="476.60" y="118.12" font-size="4.8" font-weight="bold" font-style="normal" text-anchor="middle" fill="#000">**</text>
<line x1="467.80" y1="171.80" x2="467.80" y2="173.70" stroke="#000" stroke-width="0.7"/>
<text x="467.80" y="178.08" font-size="4.4" font-weight="bold" font-style="normal" text-anchor="middle" fill="#000" stroke="#000" stroke-width="0.14">6dpi</text>
<line x1="506.60" y1="151.50" x2="506.60" y2="156.10" stroke="#222" stroke-width="0.7"/>
<line x1="503.85" y1="151.50" x2="509.35" y2="151.50" stroke="#222" stroke-width="0.7"/>
<rect x="500.70" y="156.10" width="11.80" height="15.70" fill="#000"/>
<line x1="524.20" y1="120.40" x2="524.20" y2="127.00" stroke="#222" stroke-width="0.7"/>
<line x1="521.45" y1="120.40" x2="526.95" y2="120.40" stroke="#222" stroke-width="0.7"/>
<rect x="518.55" y="127.25" width="11.30" height="44.55" fill="#a3a3a3" stroke="#3a3a3a" stroke-width="0.5"/>
<text x="524.20" y="118.42" font-size="4.8" font-weight="bold" font-style="normal" text-anchor="middle" fill="#000">**</text>
<line x1="515.40" y1="171.80" x2="515.40" y2="173.70" stroke="#000" stroke-width="0.7"/>
<text x="515.40" y="178.08" font-size="4.4" font-weight="bold" font-style="normal" text-anchor="middle" fill="#000" stroke="#000" stroke-width="0.14">18dpi</text>
<line x1="444.00" y1="171.80" x2="539.50" y2="171.80" stroke="#000" stroke-width="0.8"/>
<line x1="444.40" y1="108.40" x2="444.40" y2="172.20" stroke="#000" stroke-width="0.8"/>
<line x1="442.50" y1="171.80" x2="444.40" y2="171.80" stroke="#000" stroke-width="0.6"/>
<text x="441.60" y="173.48" font-size="4.7" font-weight="bold" font-style="normal" text-anchor="end" fill="#000" stroke="#000" stroke-width="0.14">0</text>
<line x1="442.50" y1="156.05" x2="444.40" y2="156.05" stroke="#000" stroke-width="0.6"/>
<text x="441.60" y="157.73" font-size="4.7" font-weight="bold" font-style="normal" text-anchor="end" fill="#000" stroke="#000" stroke-width="0.14">1</text>
<line x1="442.50" y1="140.30" x2="444.40" y2="140.30" stroke="#000" stroke-width="0.6"/>
<text x="441.60" y="141.98" font-size="4.7" font-weight="bold" font-style="normal" text-anchor="end" fill="#000" stroke="#000" stroke-width="0.14">2</text>
<line x1="442.50" y1="124.55" x2="444.40" y2="124.55" stroke="#000" stroke-width="0.6"/>
<text x="441.60" y="126.23" font-size="4.7" font-weight="bold" font-style="normal" text-anchor="end" fill="#000" stroke="#000" stroke-width="0.14">3</text>
<line x1="442.50" y1="108.80" x2="444.40" y2="108.80" stroke="#000" stroke-width="0.6"/>
<text x="441.60" y="110.48" font-size="4.7" font-weight="bold" font-style="normal" text-anchor="end" fill="#000" stroke="#000" stroke-width="0.14">4</text>
</g>
<text x="2.24" y="195.00" font-size="11.8" font-weight="bold" font-style="normal" text-anchor="start" fill="#000" stroke="#000" stroke-width="0.4">I</text>
<text x="8.96" y="231.00" font-size="4.37" font-weight="bold" font-style="normal" text-anchor="middle" fill="#000" transform="rotate(-90 8.96 231.00)" stroke="#000" stroke-width="0.14">Numbers of J2 per gram root</text>
<line x1="39.70" y1="213.40" x2="39.70" y2="221.20" stroke="#222" stroke-width="0.7"/>
<line x1="34.95" y1="213.40" x2="44.45" y2="213.40" stroke="#222" stroke-width="0.7"/>
<rect x="29.80" y="221.20" width="19.80" height="39.10" fill="#000"/>
<text x="39.70" y="267.18" font-size="4.4" font-weight="bold" font-style="normal" text-anchor="middle" fill="#000" stroke="#000" stroke-width="0.14">WT</text>
<line x1="69.75" y1="248.00" x2="69.75" y2="252.00" stroke="#222" stroke-width="0.7"/>
<line x1="65.00" y1="248.00" x2="74.50" y2="248.00" stroke="#222" stroke-width="0.7"/>
<rect x="59.95" y="252.25" width="19.60" height="8.05" fill="#a6a6a6" stroke="#333" stroke-width="0.5"/>
<text x="69.75" y="246.92" font-size="4.8" font-weight="bold" font-style="normal" text-anchor="middle" fill="#000">**</text>
<text x="69.75" y="267.18" font-size="4.4" font-weight="bold" font-style="italic" text-anchor="middle" fill="#000" stroke="#000" stroke-width="0.14">cipk9</text>
<line x1="99.80" y1="218.60" x2="99.80" y2="228.30" stroke="#222" stroke-width="0.7"/>
<line x1="95.05" y1="218.60" x2="104.55" y2="218.60" stroke="#222" stroke-width="0.7"/>
<rect x="90.15" y="228.55" width="19.30" height="31.75" fill="#808080" stroke="#333" stroke-width="0.5"/>
<text x="99.80" y="267.18" font-size="4.4" font-weight="bold" font-style="italic" text-anchor="middle" fill="#000" stroke="#000" stroke-width="0.14">CIPK9 OX</text>
<line x1="23.70" y1="260.30" x2="114.90" y2="260.30" stroke="#000" stroke-width="0.8"/>
<line x1="24.10" y1="199.50" x2="24.10" y2="260.70" stroke="#000" stroke-width="0.8"/>
<line x1="22.20" y1="260.30" x2="24.10" y2="260.30" stroke="#000" stroke-width="0.6"/>
<text x="21.30" y="261.91" font-size="4.5" font-weight="bold" font-style="normal" text-anchor="end" fill="#000" stroke="#000" stroke-width="0.14">0</text>
<line x1="22.20" y1="240.17" x2="24.10" y2="240.17" stroke="#000" stroke-width="0.6"/>
<text x="21.30" y="241.78" font-size="4.5" font-weight="bold" font-style="normal" text-anchor="end" fill="#000" stroke="#000" stroke-width="0.14">500</text>
<line x1="22.20" y1="220.03" x2="24.10" y2="220.03" stroke="#000" stroke-width="0.6"/>
<text x="21.30" y="221.64" font-size="4.5" font-weight="bold" font-style="normal" text-anchor="end" fill="#000" stroke="#000" stroke-width="0.14">1000</text>
<line x1="22.20" y1="199.90" x2="24.10" y2="199.90" stroke="#000" stroke-width="0.6"/>
<text x="21.30" y="201.51" font-size="4.5" font-weight="bold" font-style="normal" text-anchor="end" fill="#000" stroke="#000" stroke-width="0.14">1500</text>
<text x="138.33" y="195.20" font-size="11.8" font-weight="bold" font-style="normal" text-anchor="start" fill="#000" stroke="#000" stroke-width="0.4">J</text>
<text x="154.96" y="229.80" font-size="4.93" font-weight="bold" font-style="normal" text-anchor="middle" fill="#000" transform="rotate(-90 154.96 229.80)" stroke="#000" stroke-width="0.14">Galls per gram root</text>
<line x1="182.15" y1="225.90" x2="182.15" y2="235.30" stroke="#222" stroke-width="0.7"/>
<line x1="177.40" y1="225.90" x2="186.90" y2="225.90" stroke="#222" stroke-width="0.7"/>
<rect x="172.10" y="235.30" width="20.10" height="25.00" fill="#000"/>
<text x="182.15" y="267.18" font-size="4.4" font-weight="bold" font-style="normal" text-anchor="middle" fill="#000" stroke="#000" stroke-width="0.14">WT</text>
<line x1="212.35" y1="240.50" x2="212.35" y2="247.40" stroke="#222" stroke-width="0.7"/>
<line x1="207.60" y1="240.50" x2="217.10" y2="240.50" stroke="#222" stroke-width="0.7"/>
<rect x="202.45" y="247.65" width="19.80" height="12.65" fill="#a6a6a6" stroke="#333" stroke-width="0.5"/>
<text x="212.35" y="238.82" font-size="4.8" font-weight="bold" font-style="normal" text-anchor="middle" fill="#000">**</text>
<text x="212.35" y="267.18" font-size="4.4" font-weight="bold" font-style="italic" text-anchor="middle" fill="#000" stroke="#000" stroke-width="0.14">cipk9</text>
<line x1="242.70" y1="214.80" x2="242.70" y2="221.70" stroke="#222" stroke-width="0.7"/>
<line x1="237.95" y1="214.80" x2="247.45" y2="214.80" stroke="#222" stroke-width="0.7"/>
<rect x="233.05" y="221.95" width="19.30" height="38.35" fill="#808080" stroke="#333" stroke-width="0.5"/>
<text x="242.70" y="212.62" font-size="4.8" font-weight="bold" font-style="normal" text-anchor="middle" fill="#000">**</text>
<text x="242.70" y="267.18" font-size="4.4" font-weight="bold" font-style="italic" text-anchor="middle" fill="#000" stroke="#000" stroke-width="0.14">CIPK9 OX</text>
<line x1="166.20" y1="260.30" x2="257.80" y2="260.30" stroke="#000" stroke-width="0.8"/>
<line x1="166.60" y1="199.50" x2="166.60" y2="260.70" stroke="#000" stroke-width="0.8"/>
<line x1="164.70" y1="260.30" x2="166.60" y2="260.30" stroke="#000" stroke-width="0.6"/>
<text x="163.80" y="261.91" font-size="4.5" font-weight="bold" font-style="normal" text-anchor="end" fill="#000" stroke="#000" stroke-width="0.14">0</text>
<line x1="164.70" y1="245.20" x2="166.60" y2="245.20" stroke="#000" stroke-width="0.6"/>
<text x="163.80" y="246.81" font-size="4.5" font-weight="bold" font-style="normal" text-anchor="end" fill="#000" stroke="#000" stroke-width="0.14">200</text>
<line x1="164.70" y1="230.10" x2="166.60" y2="230.10" stroke="#000" stroke-width="0.6"/>
<text x="163.80" y="231.71" font-size="4.5" font-weight="bold" font-style="normal" text-anchor="end" fill="#000" stroke="#000" stroke-width="0.14">400</text>
<line x1="164.70" y1="215.00" x2="166.60" y2="215.00" stroke="#000" stroke-width="0.6"/>
<text x="163.80" y="216.61" font-size="4.5" font-weight="bold" font-style="normal" text-anchor="end" fill="#000" stroke="#000" stroke-width="0.14">600</text>
<line x1="164.70" y1="199.90" x2="166.60" y2="199.90" stroke="#000" stroke-width="0.6"/>
<text x="163.80" y="201.51" font-size="4.5" font-weight="bold" font-style="normal" text-anchor="end" fill="#000" stroke="#000" stroke-width="0.14">800</text>
<text x="275.34" y="195.00" font-size="11.8" font-weight="bold" font-style="normal" text-anchor="start" fill="#000" stroke="#000" stroke-width="0.4">K</text>
<text x="294.55" y="236.00" font-size="4.32" font-weight="bold" font-style="normal" text-anchor="middle" fill="#000" transform="rotate(-90 294.55 236.00)" stroke="#000" stroke-width="0.14">Nematodes of per gram root</text>
<rect x="346.50" y="198.60" width="6.60" height="2.20" fill="#d9d9d9" stroke="#222" stroke-width="0.6"/>
<text x="356.70" y="201.17" font-size="4.1" font-weight="normal" font-style="normal" text-anchor="start" fill="#555" stroke="#555" stroke-width="0.1"><tspan font-style="italic">J2</tspan></text>
<rect x="346.50" y="204.30" width="6.60" height="2.20" fill="#8c8c8c" stroke="#222" stroke-width="0.6"/>
<text x="356.70" y="206.87" font-size="4.1" font-weight="normal" font-style="normal" text-anchor="start" fill="#555" stroke="#555" stroke-width="0.1">sausage-shaped <tspan font-style="italic">J2</tspan></text>
<rect x="346.50" y="209.90" width="6.60" height="2.20" fill="#000" stroke="#222" stroke-width="0.6"/>
<text x="356.70" y="212.47" font-size="4.1" font-weight="normal" font-style="normal" text-anchor="start" fill="#555" stroke="#555" stroke-width="0.1">Globose</text>
<rect x="346.50" y="215.60" width="6.60" height="2.20" fill="#fff" stroke="#222" stroke-width="0.6"/>
<text x="356.70" y="218.17" font-size="4.1" font-weight="normal" font-style="normal" text-anchor="start" fill="#555" stroke="#555" stroke-width="0.1">Total</text>
<line x1="314.70" y1="259.30" x2="314.70" y2="260.30" stroke="#b8b8b8" stroke-width="0.5"/>
<line x1="313.20" y1="259.30" x2="316.20" y2="259.30" stroke="#b8b8b8" stroke-width="0.5"/>
<rect x="312.20" y="260.60" width="5.00" height="4.70" fill="#d9d9d9" stroke="#1a1a1a" stroke-width="0.6"/>
<line x1="320.60" y1="233.60" x2="320.60" y2="242.20" stroke="#b8b8b8" stroke-width="0.5"/>
<line x1="319.10" y1="233.60" x2="322.10" y2="233.60" stroke="#b8b8b8" stroke-width="0.5"/>
<rect x="318.10" y="242.50" width="5.00" height="22.80" fill="#8c8c8c" stroke="#1a1a1a" stroke-width="0.6"/>
<rect x="324.00" y="264.70" width="5.00" height="0.60" fill="#000" stroke="#1a1a1a" stroke-width="0.6"/>
<line x1="332.40" y1="225.40" x2="332.40" y2="236.60" stroke="#b8b8b8" stroke-width="0.5"/>
<line x1="330.90" y1="225.40" x2="333.90" y2="225.40" stroke="#b8b8b8" stroke-width="0.5"/>
<rect x="329.90" y="236.90" width="5.00" height="28.40" fill="#fff" stroke="#1a1a1a" stroke-width="0.6"/>
<line x1="323.70" y1="265.30" x2="323.70" y2="267.20" stroke="#000" stroke-width="0.7"/>
<text x="323.70" y="272.25" font-size="4.6" font-weight="bold" font-style="normal" text-anchor="middle" fill="#000" stroke="#000" stroke-width="0.14">WT</text>
<line x1="344.10" y1="264.20" x2="344.10" y2="264.60" stroke="#777" stroke-width="0.5"/>
<line x1="342.60" y1="264.20" x2="345.60" y2="264.20" stroke="#777" stroke-width="0.5"/>
<rect x="341.60" y="264.90" width="5.00" height="0.40" fill="#d9d9d9" stroke="#1a1a1a" stroke-width="0.6"/>
<text x="344.10" y="262.70" font-size="4.2" font-weight="bold" font-style="normal" text-anchor="middle" fill="#222">**</text>
<line x1="350.00" y1="252.50" x2="350.00" y2="256.80" stroke="#777" stroke-width="0.5"/>
<line x1="348.50" y1="252.50" x2="351.50" y2="252.50" stroke="#777" stroke-width="0.5"/>
<rect x="347.50" y="257.10" width="5.00" height="8.20" fill="#8c8c8c" stroke="#1a1a1a" stroke-width="0.6"/>
<text x="350.00" y="251.20" font-size="4.2" font-weight="bold" font-style="normal" text-anchor="middle" fill="#222">**</text>
<rect x="353.40" y="265.30" width="5.00" height="0.00" fill="#000" stroke="#1a1a1a" stroke-width="0.6"/>
<line x1="361.80" y1="250.80" x2="361.80" y2="255.60" stroke="#777" stroke-width="0.5"/>
<line x1="360.30" y1="250.80" x2="363.30" y2="250.80" stroke="#777" stroke-width="0.5"/>
<rect x="359.30" y="255.90" width="5.00" height="9.40" fill="#fff" stroke="#1a1a1a" stroke-width="0.6"/>
<text x="361.80" y="249.10" font-size="4.2" font-weight="bold" font-style="normal" text-anchor="middle" fill="#222">**</text>
<line x1="353.10" y1="265.30" x2="353.10" y2="267.20" stroke="#000" stroke-width="0.7"/>
<text x="353.10" y="272.25" font-size="4.6" font-weight="bold" font-style="italic" text-anchor="middle" fill="#000" stroke="#000" stroke-width="0.14">cipk9</text>
<line x1="373.50" y1="242.70" x2="373.50" y2="246.50" stroke="#777" stroke-width="0.5"/>
<line x1="372.00" y1="242.70" x2="375.00" y2="242.70" stroke="#777" stroke-width="0.5"/>
<rect x="371.00" y="246.80" width="5.00" height="18.50" fill="#d9d9d9" stroke="#1a1a1a" stroke-width="0.6"/>
<text x="373.50" y="241.40" font-size="4.2" font-weight="bold" font-style="normal" text-anchor="middle" fill="#222">**</text>
<line x1="379.40" y1="247.00" x2="379.40" y2="250.30" stroke="#777" stroke-width="0.5"/>
<line x1="377.90" y1="247.00" x2="380.90" y2="247.00" stroke="#777" stroke-width="0.5"/>
<rect x="376.90" y="250.60" width="5.00" height="14.70" fill="#8c8c8c" stroke="#1a1a1a" stroke-width="0.6"/>
<text x="379.40" y="245.20" font-size="4.2" font-weight="bold" font-style="normal" text-anchor="middle" fill="#222">**</text>
<rect x="382.80" y="265.00" width="5.00" height="0.30" fill="#000" stroke="#1a1a1a" stroke-width="0.6"/>
<line x1="391.20" y1="223.80" x2="391.20" y2="230.50" stroke="#777" stroke-width="0.5"/>
<line x1="389.70" y1="223.80" x2="392.70" y2="223.80" stroke="#777" stroke-width="0.5"/>
<rect x="388.70" y="230.80" width="5.00" height="34.50" fill="#fff" stroke="#1a1a1a" stroke-width="0.6"/>
<text x="391.20" y="222.10" font-size="4.2" font-weight="bold" font-style="normal" text-anchor="middle" fill="#222">*</text>
<line x1="382.50" y1="265.30" x2="382.50" y2="267.20" stroke="#000" stroke-width="0.7"/>
<text x="382.50" y="272.25" font-size="4.6" font-weight="bold" font-style="italic" text-anchor="middle" fill="#000" stroke="#000" stroke-width="0.14">CIPK OX</text>
<line x1="308.60" y1="265.30" x2="397.10" y2="265.30" stroke="#000" stroke-width="0.8"/>
<line x1="309.00" y1="206.40" x2="309.00" y2="265.70" stroke="#000" stroke-width="0.8"/>
<line x1="307.10" y1="265.30" x2="309.00" y2="265.30" stroke="#000" stroke-width="0.6"/>
<text x="306.20" y="266.84" font-size="4.3" font-weight="bold" font-style="normal" text-anchor="end" fill="#000" stroke="#000" stroke-width="0.14">0</text>
<line x1="307.10" y1="245.80" x2="309.00" y2="245.80" stroke="#000" stroke-width="0.6"/>
<text x="306.20" y="247.34" font-size="4.3" font-weight="bold" font-style="normal" text-anchor="end" fill="#000" stroke="#000" stroke-width="0.14">500</text>
<line x1="307.10" y1="226.30" x2="309.00" y2="226.30" stroke="#000" stroke-width="0.6"/>
<text x="306.20" y="227.84" font-size="4.3" font-weight="bold" font-style="normal" text-anchor="end" fill="#000" stroke="#000" stroke-width="0.14">1000</text>
<line x1="307.10" y1="206.80" x2="309.00" y2="206.80" stroke="#000" stroke-width="0.6"/>
<text x="306.20" y="208.34" font-size="4.3" font-weight="bold" font-style="normal" text-anchor="end" fill="#000" stroke="#000" stroke-width="0.14">1500</text>
<text x="419.54" y="195.00" font-size="11.8" font-weight="bold" font-style="normal" text-anchor="start" fill="#000" stroke="#000" stroke-width="0.4">L</text>
<rect x="447.90" y="195.10" width="5.90" height="2.00" fill="#fff" stroke="#222" stroke-width="0.6"/>
<text x="458.60" y="197.74" font-size="4.3" font-weight="normal" font-style="italic" text-anchor="start" fill="#444" stroke="#444" stroke-width="0.1">J2</text>
<rect x="464.20" y="195.10" width="6.50" height="2.00" fill="#9a9a9a" stroke="#222" stroke-width="0.6"/>
<text x="474.60" y="197.74" font-size="4.3" font-weight="normal" font-style="normal" text-anchor="start" fill="#444" stroke="#444" stroke-width="0.1">sausage-shaped <tspan font-style="italic">J2</tspan></text>
<rect x="515.10" y="195.00" width="6.50" height="2.20" fill="#000"/>
<text x="525.40" y="197.74" font-size="4.3" font-weight="normal" font-style="normal" text-anchor="start" fill="#444" stroke="#444" stroke-width="0.1">Globose</text>
<rect x="444.40" y="202.70" width="49.32" height="12.20" fill="#fff" stroke="#111" stroke-width="0.8"/>
<rect x="493.72" y="202.70" width="41.81" height="12.20" fill="#9a9a9a" stroke="#111" stroke-width="0.8"/>
<rect x="535.52" y="202.30" width="1.58" height="13.00" fill="#000"/>
<line x1="442.50" y1="208.80" x2="444.40" y2="208.80" stroke="#000" stroke-width="0.7"/>
<text x="441.16" y="208.80" font-size="5.2" font-weight="bold" font-style="italic" text-anchor="middle" fill="#000" transform="rotate(-90 441.16 208.80)" stroke="#000" stroke-width="0.14">CIPK9 OX</text>
<rect x="444.40" y="223.30" width="6.67" height="12.00" fill="#fff" stroke="#111" stroke-width="0.8"/>
<rect x="451.07" y="223.30" width="81.21" height="12.00" fill="#9a9a9a" stroke="#111" stroke-width="0.8"/>
<rect x="532.28" y="222.90" width="4.82" height="12.80" fill="#000"/>
<line x1="442.50" y1="229.30" x2="444.40" y2="229.30" stroke="#000" stroke-width="0.7"/>
<text x="441.16" y="229.30" font-size="5.2" font-weight="bold" font-style="italic" text-anchor="middle" fill="#000" transform="rotate(-90 441.16 229.30)" stroke="#000" stroke-width="0.14">cipk9</text>
<rect x="444.40" y="244.00" width="15.57" height="12.30" fill="#fff" stroke="#111" stroke-width="0.8"/>
<rect x="459.97" y="244.00" width="74.62" height="12.30" fill="#9a9a9a" stroke="#111" stroke-width="0.8"/>
<rect x="534.60" y="243.60" width="2.50" height="13.10" fill="#000"/>
<line x1="442.50" y1="250.15" x2="444.40" y2="250.15" stroke="#000" stroke-width="0.7"/>
<text x="441.23" y="250.15" font-size="5.4" font-weight="bold" font-style="normal" text-anchor="middle" fill="#000" transform="rotate(-90 441.23 250.15)" stroke="#000" stroke-width="0.14">WT</text>
<line x1="444.40" y1="198.50" x2="444.40" y2="261.20" stroke="#000" stroke-width="0.8"/>
<line x1="444.00" y1="260.80" x2="537.50" y2="260.80" stroke="#000" stroke-width="0.8"/>
<line x1="444.40" y1="260.80" x2="444.40" y2="262.70" stroke="#000" stroke-width="0.7"/>
<text x="444.40" y="267.08" font-size="4.4" font-weight="bold" font-style="normal" text-anchor="middle" fill="#000" stroke="#000" stroke-width="0.14">0</text>
<line x1="462.94" y1="260.80" x2="462.94" y2="262.70" stroke="#000" stroke-width="0.7"/>
<text x="462.94" y="267.08" font-size="4.4" font-weight="bold" font-style="normal" text-anchor="middle" fill="#000" stroke="#000" stroke-width="0.14">20</text>
<line x1="481.48" y1="260.80" x2="481.48" y2="262.70" stroke="#000" stroke-width="0.7"/>
<text x="481.48" y="267.08" font-size="4.4" font-weight="bold" font-style="normal" text-anchor="middle" fill="#000" stroke="#000" stroke-width="0.14">40</text>
<line x1="500.02" y1="260.80" x2="500.02" y2="262.70" stroke="#000" stroke-width="0.7"/>
<text x="500.02" y="267.08" font-size="4.4" font-weight="bold" font-style="normal" text-anchor="middle" fill="#000" stroke="#000" stroke-width="0.14">60</text>
<line x1="518.56" y1="260.80" x2="518.56" y2="262.70" stroke="#000" stroke-width="0.7"/>
<text x="518.56" y="267.08" font-size="4.4" font-weight="bold" font-style="normal" text-anchor="middle" fill="#000" stroke="#000" stroke-width="0.14">80</text>
<line x1="537.10" y1="260.80" x2="537.10" y2="262.70" stroke="#000" stroke-width="0.7"/>
<text x="537.10" y="267.08" font-size="4.4" font-weight="bold" font-style="normal" text-anchor="middle" fill="#000" stroke="#000" stroke-width="0.14">100</text>
<text x="434.20" y="273.63" font-size="5.12" font-weight="bold" font-style="normal" text-anchor="start" fill="#000" stroke="#000" stroke-width="0.14">Different larva instar percent per gram root(%)</text>
</g>
</svg>
</body></html>
